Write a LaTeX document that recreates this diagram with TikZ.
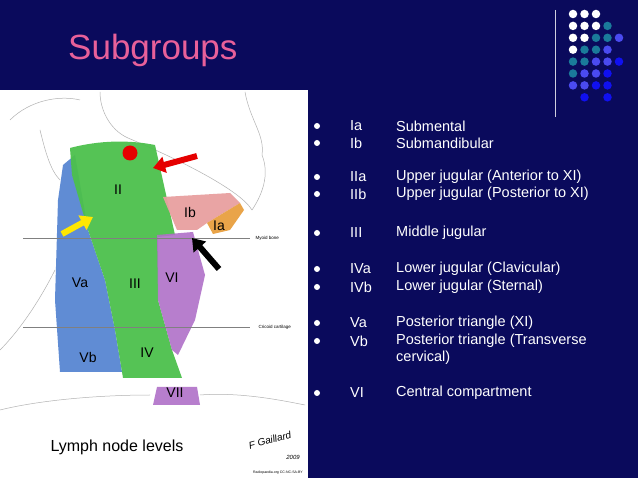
\documentclass[tikz,border=0pt]{standalone}
\usepackage{fontspec}
\setmainfont{Liberation Sans}
\usetikzlibrary{arrows.meta}
\definecolor{navy}{HTML}{0A0A5C}
\definecolor{ttl}{HTML}{E8609A}
\definecolor{dW}{HTML}{FFFFFF}
\definecolor{dT}{HTML}{1A7A9A}
\definecolor{dP}{HTML}{4A4AF0}
\definecolor{dB}{HTML}{1010F0}
\definecolor{gr}{HTML}{4CC04C}
\definecolor{bl}{HTML}{4F80D0}
\definecolor{pu}{HTML}{B070C8}
\definecolor{pk}{HTML}{E8A0A0}
\definecolor{or}{HTML}{E8A040}
\tikzset{
 lvl/.style={font=\fontsize{14}{14}\selectfont,text=black},
 item/.style={anchor=west,text=white,font=\fontsize{14.5}{16}\selectfont,inner sep=0pt},
 bul/.style={circle,fill=white,inner sep=0pt,minimum size=6pt},
 dot/.style={circle,inner sep=0pt,minimum size=8.5pt},
 bigarrow/.style={-{Triangle[length=12pt,width=16pt]},line width=6pt},
 sketch/.style={gray!60,line width=0.5pt}
}
\begin{document}
\begin{tikzpicture}[x=1pt,y=-1pt]
\useasboundingbox (0,0) rectangle (638,478);
\fill[navy] (0,0) rectangle (638,478);
\node[text=ttl,font=\fontsize{35}{35}\selectfont,anchor=west,inner sep=0pt] (title) at (68,50) {Subgroups};
% decorative dots
\draw[white!80!navy,line width=1pt] (555,10) -- (555,117);
\foreach \row/\cols in {0/{W,W,W},1/{W,W,W,T},2/{W,W,T,T,P},3/{W,T,T,P},4/{T,T,P,P,B},5/{T,P,P,B},6/{P,P,B,B}}{
  \foreach \c [count=\i from 0] in \cols {
      \node[dot,fill=d\c] (d\row\i) at (573+11.5*\i,14+11.9*\row) {};
  }
}
\node[dot,fill=dB] (d71) at (584.5,97.3) {};
\node[dot,fill=dB] (d73) at (607.5,97.3) {};
% picture panel
\fill[white] (0,90) rectangle (308,478);
% head sketch
\draw[sketch] (10,120) .. controls (30,100) and (60,95) .. (80,100);
\draw[sketch] (100,92) .. controls (100,110) and (110,130) .. (128,138);
\draw[sketch] (128,138) .. controls (180,160) and (240,190) .. (252,210);
\draw[sketch] (245,92) .. controls (250,120) and (265,135) .. (262,155) .. controls (270,175) and (262,195) .. (252,210);
\draw[sketch] (40,130) .. controls (45,150) and (50,170) .. (60,180);
\draw[sketch] (0,350) .. controls (20,330) and (40,300) .. (55,270);
\draw[sketch] (0,410) .. controls (40,400) and (100,395) .. (150,395);
\draw[sketch] (200,395) .. controls (240,392) and (280,400) .. (305,405);
% regions
\fill[bl,opacity=0.9] (75,155) -- (88,230) -- (105,280) -- (115,330) -- (122,372) -- (60,372) -- (55,300) -- (58,200) -- (63,165) -- cycle;
\fill[gr,opacity=0.95] (70,148) .. controls (100,140) and (130,140) .. (155,145) -- (165,190) -- (175,235) -- (158,237) -- (158,300) -- (172,350) -- (182,378) -- (123,378) -- (115,330) -- (105,280) -- (88,230) -- (72,175) -- cycle;
\fill[pu,opacity=0.9] (157,235) -- (193,232) -- (205,275) -- (195,320) -- (178,355) -- (172,350) -- (158,300) -- cycle;
\fill[pu,opacity=0.9] (157,387) -- (197,387) -- (200,405) -- (153,405) -- cycle;
\fill[pk,opacity=0.95] (163,197) -- (230,193) -- (240,203) -- (207,223) -- (197,230) -- (177,230) -- cycle;
\fill[or,opacity=0.95] (207,223) -- (240,203) -- (244,210) -- (230,230) -- (213,234) -- cycle;
% reference lines
\draw[gray,line width=0.6pt] (23,238) -- (250,238);
\draw[gray,line width=0.6pt] (23,327) -- (250,327);
\node[anchor=west,font=\fontsize{4.5}{5}\selectfont] (hy) at (252,238) {Myoid bone};
\node[anchor=west,font=\fontsize{4.5}{5}\selectfont] (cr) at (255,327) {Cricoid cartilage};
% labels
\node[lvl] (lII) at (118,190) {II};
\node[lvl] (lIb) at (190,212) {Ib};
\node[lvl] (lIa) at (219,226) {Ia};
\node[lvl] (lVa) at (80,283) {Va};
\node[lvl] (lIII) at (135,284) {III};
\node[lvl] (lVI) at (172,278) {VI};
\node[lvl] (lVb) at (88,357) {Vb};
\node[lvl] (lIV) at (147,353) {IV};
\node[lvl] (lVII) at (175,393) {VII};
% markers
\node[circle,fill=red!90!black,minimum size=15pt,inner sep=0pt] (rdot) at (130,153) {};
\coordinate (ra) at (197,156); \coordinate (rb) at (153,168);
\draw[bigarrow,red!90!black] (ra) -- (rb);
\coordinate (ya) at (62,234); \coordinate (yb) at (93,217);
\draw[bigarrow,yellow!90!orange] (ya) -- (yb);
\coordinate (ka) at (219,269); \coordinate (kb) at (192,238);
\draw[bigarrow,black] (ka) -- (kb);
% caption
\node[font=\fontsize{16}{16}\selectfont] (cap) at (117,447) {Lymph node levels};
\node[font=\itshape\fontsize{10}{10}\selectfont,rotate=15] (sig) at (270,440) {F Gaillard};
\node[font=\itshape\fontsize{6}{6}\selectfont] (yr) at (293,457) {2009};
\node[font=\fontsize{3.5}{4}\selectfont] (rp) at (278,473) {Radiopaedia.org CC-NC-SA-BY};
% list
\foreach \y/\a/\b [count=\k] in {126/Ia/Submental,143/Ib/Submandibular,177/IIa/Upper jugular (Anterior to XI),194/IIb/Upper jugular (Posterior to XI),233/III/Middle jugular,269/IVa/Lower jugular (Clavicular),287/IVb/Lower jugular (Sternal),323/Va/Posterior triangle (XI),341/Vb/Posterior triangle (Transverse,393/VI/Central compartment}{
  \node[bul] (b\k) at (317,\y) {};
  \node[item] (c\k) at (350,\y) {\a};
  \node[item] (t\k) at (396,\y) {\b};
}
\node[item] (t9b) at (396,358) {cervical)};
\end{tikzpicture}
\end{document}
